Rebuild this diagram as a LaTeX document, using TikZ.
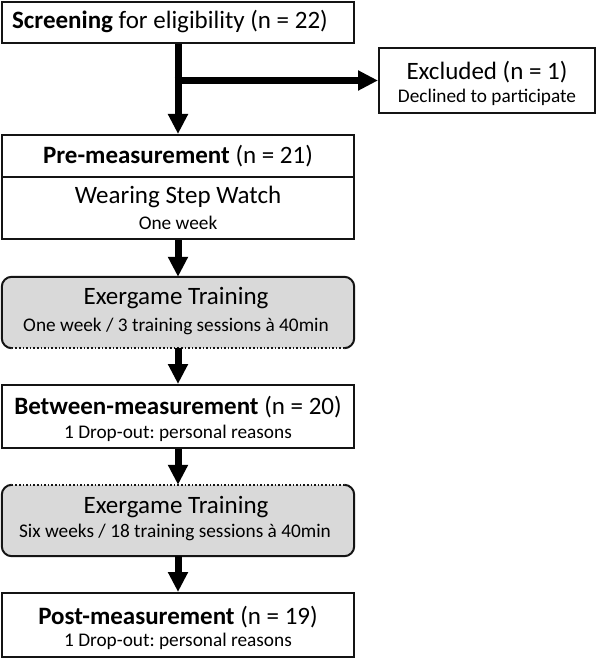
\documentclass[tikz,border=0pt]{standalone}
\usepackage{fontspec}
\setmainfont{Carlito}
\usetikzlibrary{arrows.meta}
\definecolor{boxgray}{RGB}{217,217,217}
\definecolor{edge}{RGB}{20,20,20}
\frenchspacing
\tikzset{
  box/.style={draw=edge, line width=2pt, fill=white, inner sep=0pt, minimum width=352pt},
  graybox/.style={fill=boxgray, rounded corners=10pt, inner sep=0pt, minimum width=352pt},
  big/.style={font=\fontsize{25}{29}\selectfont, inner sep=0pt},
  head/.style={font=\fontsize{25}{29}\selectfont, inner sep=0pt},
  small/.style={font=\fontsize{19.3}{23}\selectfont, inner sep=0pt},
  flow/.style={line width=7pt, -{Triangle[length=20pt,width=19pt]}},
}
\begin{document}
\begin{tikzpicture}[x=1pt,y=-1pt]
\useasboundingbox[fill=white] (0,0) rectangle (597,660);
% boxes
\node[box, minimum height=41pt] (scr) at (178,22.5) {};
\node[box, minimum width=216pt, minimum height=65pt] (exc) at (487,80.5) {};
\node[box, minimum height=42pt] (pre) at (178,156) {};
\node[box, minimum height=62pt] (wear) at (178,208) {};
\node[graybox, minimum height=71pt] (g1) at (178,312.5) {};
\node[box, minimum height=63pt] (betw) at (178,416.5) {};
\node[graybox, minimum height=71pt] (g2) at (178,520.5) {};
\node[box, minimum height=64pt] (post) at (178,625) {};
% gray box borders
\draw[edge, line width=2pt, rounded corners=10pt]
  ([xshift=10pt]g1.south west) -- (g1.south west) -- (g1.north west) -- (g1.north east) -- (g1.south east) -- ([xshift=-10pt]g1.south east);
\draw[edge, line width=1.6pt, dotted] ([xshift=10pt]g1.south west) -- ([xshift=-10pt]g1.south east);
\draw[edge, line width=2pt, rounded corners=10pt]
  ([xshift=10pt]g2.north west) -- (g2.north west) -- (g2.south west) -- (g2.south east) -- (g2.north east) -- ([xshift=-10pt]g2.north east);
\draw[edge, line width=1.6pt, dotted] ([xshift=10pt]g2.north west) -- ([xshift=-10pt]g2.north east);
% texts
\node[head] (t-scr) at (170,22) {\textbf{Screening} for eligibility (n = 22)};
\node[big] (t-exc1) at (487,72) {Excluded (n = 1)};
\node[small] (t-exc2) at (487,97) {Declined to participate};
\node[head] (t-pre) at (178,156) {\textbf{Pre-measurement} (n = 21)};
\node[big] (t-wear1) at (178,197) {Wearing Step Watch};
\node[small] (t-wear2) at (178,223) {One week};
\node[big] (t-g1a) at (176,298) {Exergame Training};
\node[small] (t-g1b) at (176,326) {One week / 3 training sessions à 40min};
\node[head] (t-betw1) at (178,407) {\textbf{Between-measurement} (n = 20)};
\node[small] (t-betw2) at (178,433) {1 Drop-out: personal reasons};
\node[big] (t-g2a) at (176,507) {Exergame Training};
\node[small] (t-g2b) at (175,532) {Six weeks / 18 training sessions à 40min};
\node[head] (t-post1) at (178,617) {\textbf{Post-measurement} (n = 19)};
\node[small] (t-post2) at (178,641) {1 Drop-out: personal reasons};
% connectors
\coordinate (branch) at (scr.south |- exc.west);
\draw[flow] (scr.south) -- (pre.north);
\draw[flow] ([xshift=-3.5pt]branch) -- (exc.west);
\draw[flow] (wear.south) -- (g1.north);
\draw[flow] (g1.south) -- (betw.north);
\draw[flow] (betw.south) -- (g2.north);
\draw[flow] (g2.south) -- (post.north);
\end{tikzpicture}
\end{document}
